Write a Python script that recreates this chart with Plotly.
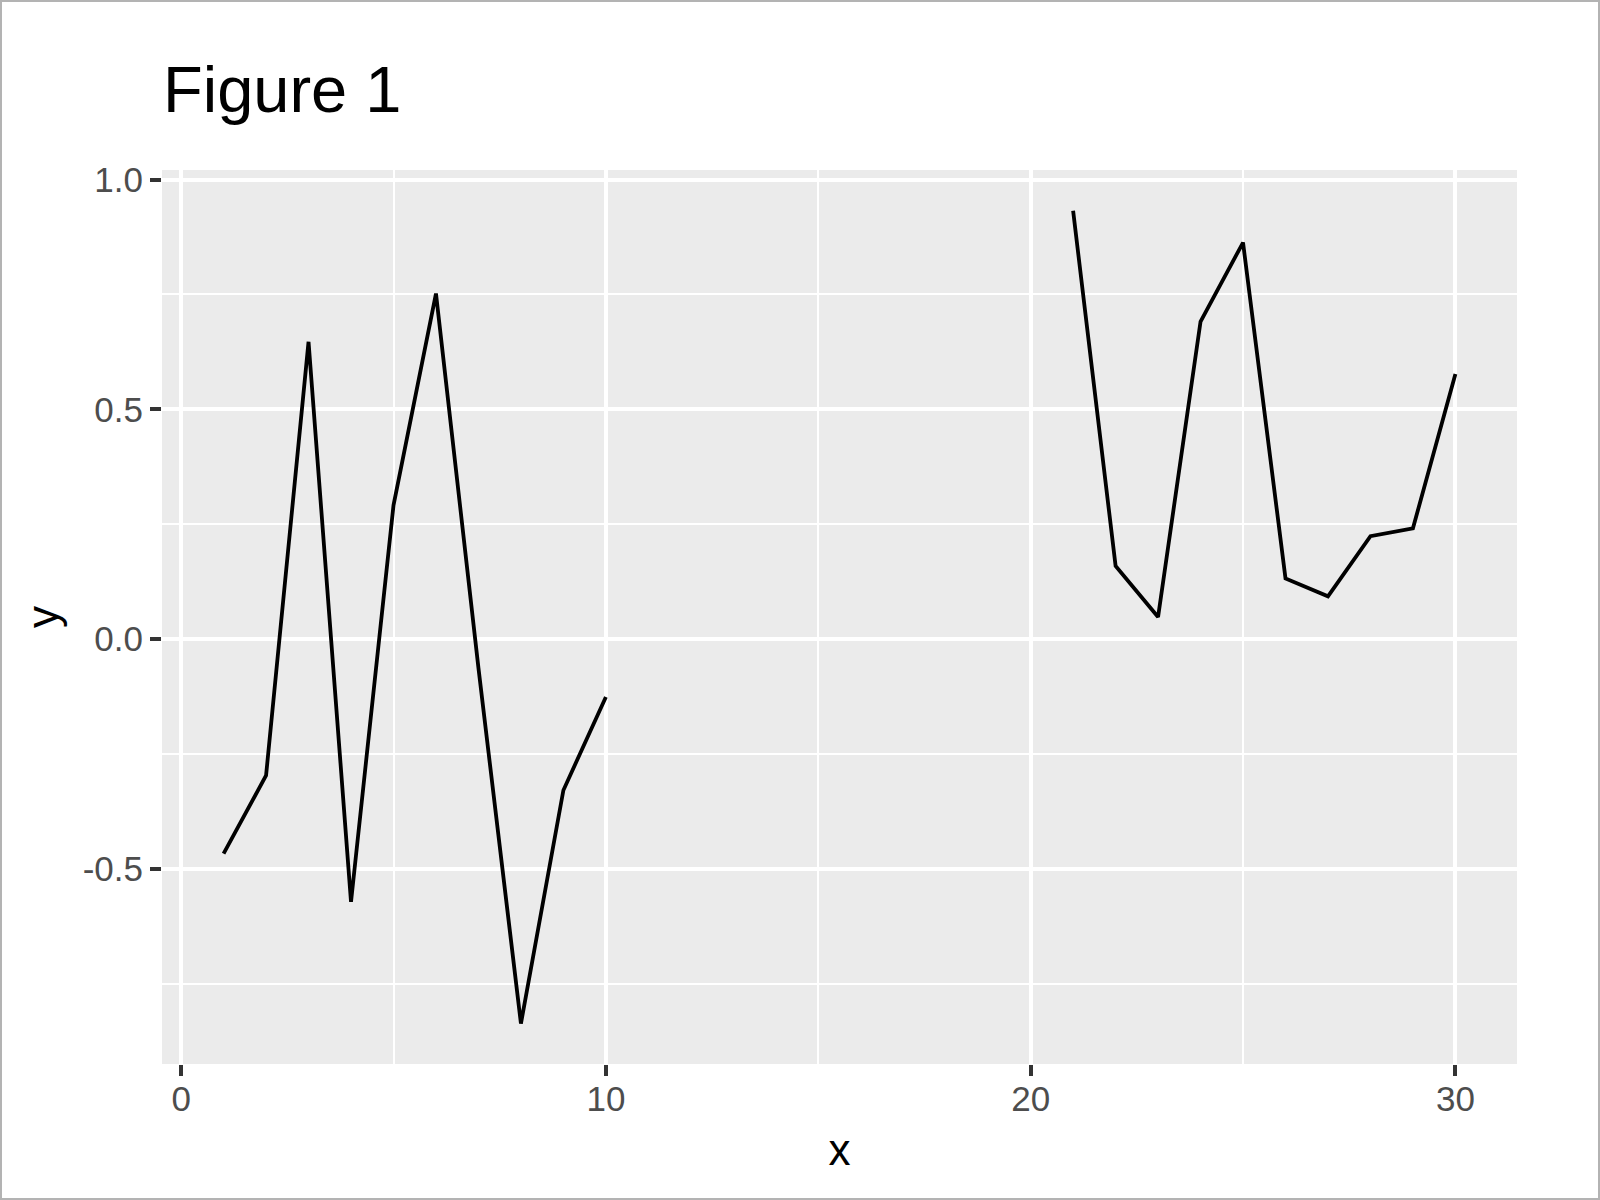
import plotly.graph_objects as go

# ---- data ----
x_values = list(range(1, 31))
y_values = [-0.467, -0.297, 0.647, -0.572, 0.291, 0.752, -0.063, -0.837, -0.329, -0.126,
            None, None, None, None, None, None, None, None, None, None,
            0.932, 0.159, 0.048, 0.691, 0.863, 0.132, 0.093, 0.224, 0.241, 0.577]

x_tick_vals = [0, 10, 20, 30]
x_tick_text = ["0", "10", "20", "30"]
y_tick_vals = [-0.5, 0.0, 0.5, 1.0]
y_tick_text = ["-0.5", "0.0", "0.5", "1.0"]
x_minor_vals = [5, 15, 25]
y_minor_vals = [-0.75, -0.25, 0.25, 0.75]

title_text = "Figure 1"
x_title = "x"
y_title = "y"

W, H = 1600, 1200
ML, MR, MT, MB = 162, 83, 170, 136
PW, PH = W - ML - MR, H - MT - MB

fig = go.Figure()
fig.add_trace(go.Scatter(
    x=x_values, y=y_values, mode="lines",
    line=dict(color="black", width=3.8),
    connectgaps=False, showlegend=False, hoverinfo="skip"))

font_family = "Liberation Sans, Arial, sans-serif"
axis_common = dict(
    showgrid=True, gridcolor="white", gridwidth=4.2,
    zeroline=False, showline=False,
    ticks="outside", ticklen=11, tickwidth=4, tickcolor="#333333",
    tickfont=dict(family=font_family, size=35, color="#4d4d4d"),
)

fig.update_layout(
    width=W, height=H,
    margin=dict(l=ML, r=MR, t=MT, b=MB, pad=0),
    paper_bgcolor="white", plot_bgcolor="#EBEBEB",
    font=dict(family=font_family, color="black"),
    title=dict(text=title_text, x=163 / W, xanchor="left", xref="container",
               y=1 - 89 / H, yanchor="middle", yref="container",
               font=dict(family=font_family, size=65, color="black")),
    xaxis=dict(axis_common, range=[-0.45, 31.45], tickvals=x_tick_vals, ticktext=x_tick_text,
               ticklabelstandoff=-7,
               minor=dict(showgrid=True, gridcolor="white", gridwidth=2.3, tickvals=x_minor_vals, ticks=""),
               title=dict(text=x_title, standoff=17, font=dict(family=font_family, size=44, color="black"))),
    yaxis=dict(axis_common, range=[-0.9249, 1.0209], tickvals=y_tick_vals, ticktext=y_tick_text,
               minor=dict(showgrid=True, gridcolor="white", gridwidth=2.3, tickvals=y_minor_vals, ticks=""),
               title=dict(text=y_title, standoff=10, font=dict(family=font_family, size=44, color="black"))),
)

# outer grey border of the image
fig.add_shape(type="rect", xref="paper", yref="paper",
              x0=(-ML + 1) / PW, x1=1 + (MR - 1) / PW,
              y0=(-MB + 1) / PH, y1=1 + (MT - 1) / PH,
              line=dict(color="#b3b3b3", width=2), fillcolor="rgba(0,0,0,0)", layer="above")

fig.write_html("out.html", config={"displayModeBar": False},
               post_script="document.body.style.margin='0';document.body.style.overflow='hidden';")
